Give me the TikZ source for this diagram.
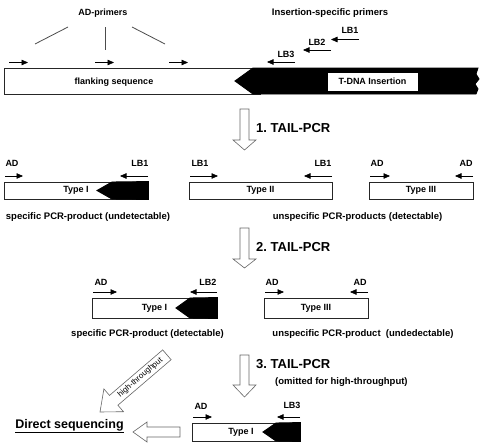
\documentclass[tikz,border=0pt]{standalone}
\usepackage{fontspec}
\setmainfont{Liberation Sans}
\usetikzlibrary{arrows.meta}
\frenchspacing
\tikzset{
    bar/.style={rectangle, draw=black!85, line width=0.9pt, fill=white, inner sep=0pt, font=\fontsize{9}{10}\selectfont\bfseries},
    tdna/.style={fill=black, draw=black, line width=0.9pt},
    primer/.style={-{Triangle[length=6.5pt, width=5.5pt]}, line width=0.6pt},
    hollowArrow/.style={draw=black!60, line width=0.6pt, fill=white},
    pointer/.style={draw=black!70, line width=0.8pt},
    lbl/.style={font=\fontsize{9}{10}\selectfont\bfseries, inner sep=0pt},
    caption/.style={font=\fontsize{9.5}{11}\selectfont\bfseries, inner sep=0pt},
    stepLabel/.style={font=\fontsize{13}{15}\selectfont\bfseries, inner sep=0pt, anchor=west}
}
\begin{document}
\begin{tikzpicture}[x=1pt, y=-1pt]
    \useasboundingbox (0,0) rectangle (480,447);

    % Primers
    \node[lbl] (adPrimers) at (103,13) {AD-primers};
    \node[caption] (lbPrimers) at (330,13) {Insertion-specific primers};
    \draw[pointer] (35,44) -- (68,27);
    \draw[pointer] (105,27) -- (105,50);
    \draw[pointer] (132,27) -- (165,44);
    \draw[primer] (9,62.5) -- (28,62.5);
    \draw[primer] (95,62.5) -- (114,62.5);
    \draw[primer] (169,62.5) -- (188,62.5);
    \node[lbl] (lbOne) at (350,30) {LB1};
    \node[lbl] (lbTwo) at (317,42) {LB2};
    \node[lbl] (lbThree) at (286,54) {LB3};
    \draw[primer] (359,39.5) -- (331,39.5);
    \draw[primer] (331,50) -- (303,50);
    \draw[primer] (295,62) -- (267,62);

    % Genome with insertion
    \node[bar, minimum width=256pt, minimum height=26pt] (flank) at (132,81) {};
    \node[lbl] (flankText) at (114,82) {flanking sequence};
    \draw[tdna] (235,81) -- (253,68) -- (478,68) -- (476,74) -- (479,79) -- (475,84) -- (478,89) -- (476,94) -- (253,94) -- cycle;
    \node[bar, draw=black, minimum width=91pt, minimum height=19pt] (tdnaBox) at (372.5,81.5) {T-DNA Insertion};

    % Step 1
    \draw[hollowArrow] (240,109) -- (249,109) -- (249,140) -- (256,140) -- (244.5,150) -- (233,140) -- (240,140) -- cycle;
    \node[stepLabel] (stepOne) at (256,128) {1. TAIL-PCR};

    \node[bar, minimum width=144pt, minimum height=17pt] (typeOneA) at (76,190.5) {Type I};
    \fill[tdna] (97,190.5) -- (112,182) -- (typeOneA.north east) -- (typeOneA.south east) -- (112,199) -- cycle;
    \node[bar, minimum width=143pt, minimum height=17pt] (typeTwo) at (260.5,190.5) {Type II};
    \node[bar, minimum width=104pt, minimum height=17pt] (typeThreeA) at (421,190.5) {Type III};
    \node[lbl] (adA) at (12,163) {AD};
    \node[lbl] (lbOneA) at (140,163) {LB1};
    \node[lbl] (lbOneB) at (200,163) {LB1};
    \node[lbl] (lbOneC) at (323,163) {LB1};
    \node[lbl] (adB) at (377,163) {AD};
    \node[lbl] (adC) at (466,163) {AD};
    \draw[primer] (5,176) -- (23,176);
    \draw[primer] (148,176) -- (120,176);
    \draw[primer] (190,176) -- (218,176);
    \draw[primer] (332,176) -- (304,176);
    \draw[primer] (370,176) -- (390,176);
    \draw[primer] (473,176) -- (455,176);
    \node[caption] (specOne) at (88,217) {specific PCR-product (undetectable)};
    \node[caption] (unspecOne) at (357.5,217) {unspecific PCR-products (detectable)};

    % Step 2
    \draw[hollowArrow] (240,228) -- (249,228) -- (249,259) -- (256,259) -- (244.5,268) -- (233,259) -- (240,259) -- cycle;
    \node[stepLabel] (stepTwo) at (256,247) {2. TAIL-PCR};

    \node[bar, minimum width=125pt, minimum height=20pt] (typeOneB) at (154.5,308) {Type I};
    \fill[tdna] (176,308) -- (190,298) -- (typeOneB.north east) -- (typeOneB.south east) -- (190,318) -- cycle;
    \node[bar, minimum width=104pt, minimum height=20pt] (typeThreeB) at (316,308) {Type III};
    \node[lbl] (adD) at (101,282) {AD};
    \node[lbl] (lbTwoA) at (208,282) {LB2};
    \node[lbl] (adE) at (272,282) {AD};
    \node[lbl] (adF) at (360,282) {AD};
    \draw[primer] (93,292) -- (117,292);
    \draw[primer] (217,292) -- (190,292);
    \draw[primer] (265,292) -- (284,292);
    \draw[primer] (368,292) -- (350,292);
    \node[caption] (specTwo) at (147.5,334) {specific PCR-product (detectable)};
    \node[caption] (unspecTwo) at (363,334) {unspecific PCR-product\ \ (undedectable)};

    % Step 3
    \draw[hollowArrow] (240,355) -- (249,355) -- (249,385) -- (256,385) -- (244.5,397) -- (233,385) -- (240,385) -- cycle;
    \node[stepLabel] (stepThree) at (256,364) {3. TAIL-PCR};
    \node[caption, anchor=west] (omitted) at (275,382) {(omitted for high-throughput)};

    \node[bar, minimum width=108pt, minimum height=18pt] (typeOneC) at (246,432) {\hspace*{-10pt}Type I};
    \fill[tdna] (263,432) -- (276,423) -- (typeOneC.north east) -- (typeOneC.south east) -- (276,441) -- cycle;
    \node[lbl] (adG) at (201,406) {AD};
    \node[lbl] (lbThreeA) at (292,405) {LB3};
    \draw[primer] (193,417) -- (212,417);
    \draw[primer] (300,417) -- (277,417);

    % Sequencing
    \draw[hollowArrow] (180,427) -- (147,427) -- (147,422) -- (133,432) -- (147,442) -- (147,437) -- (180,437) -- cycle;
    \draw[hollowArrow] (171.1,359.7) -- (117.9,405.2) -- (123.5,411.7) -- (100,412) -- (103.9,388.9) -- (109.5,395.4) -- (162.7,349.9) -- cycle;
    \node[inner sep=0pt, rotate=40.5, font=\fontsize{8}{8}\selectfont] (highThroughput) at (140.3,377.5) {high-throughput};
    \node[inner sep=0pt, font=\fontsize{12.5}{14}\selectfont\bfseries] (directSeq) at (69.5,426) {\underline{Direct sequencing}};
\end{tikzpicture}
\end{document}
